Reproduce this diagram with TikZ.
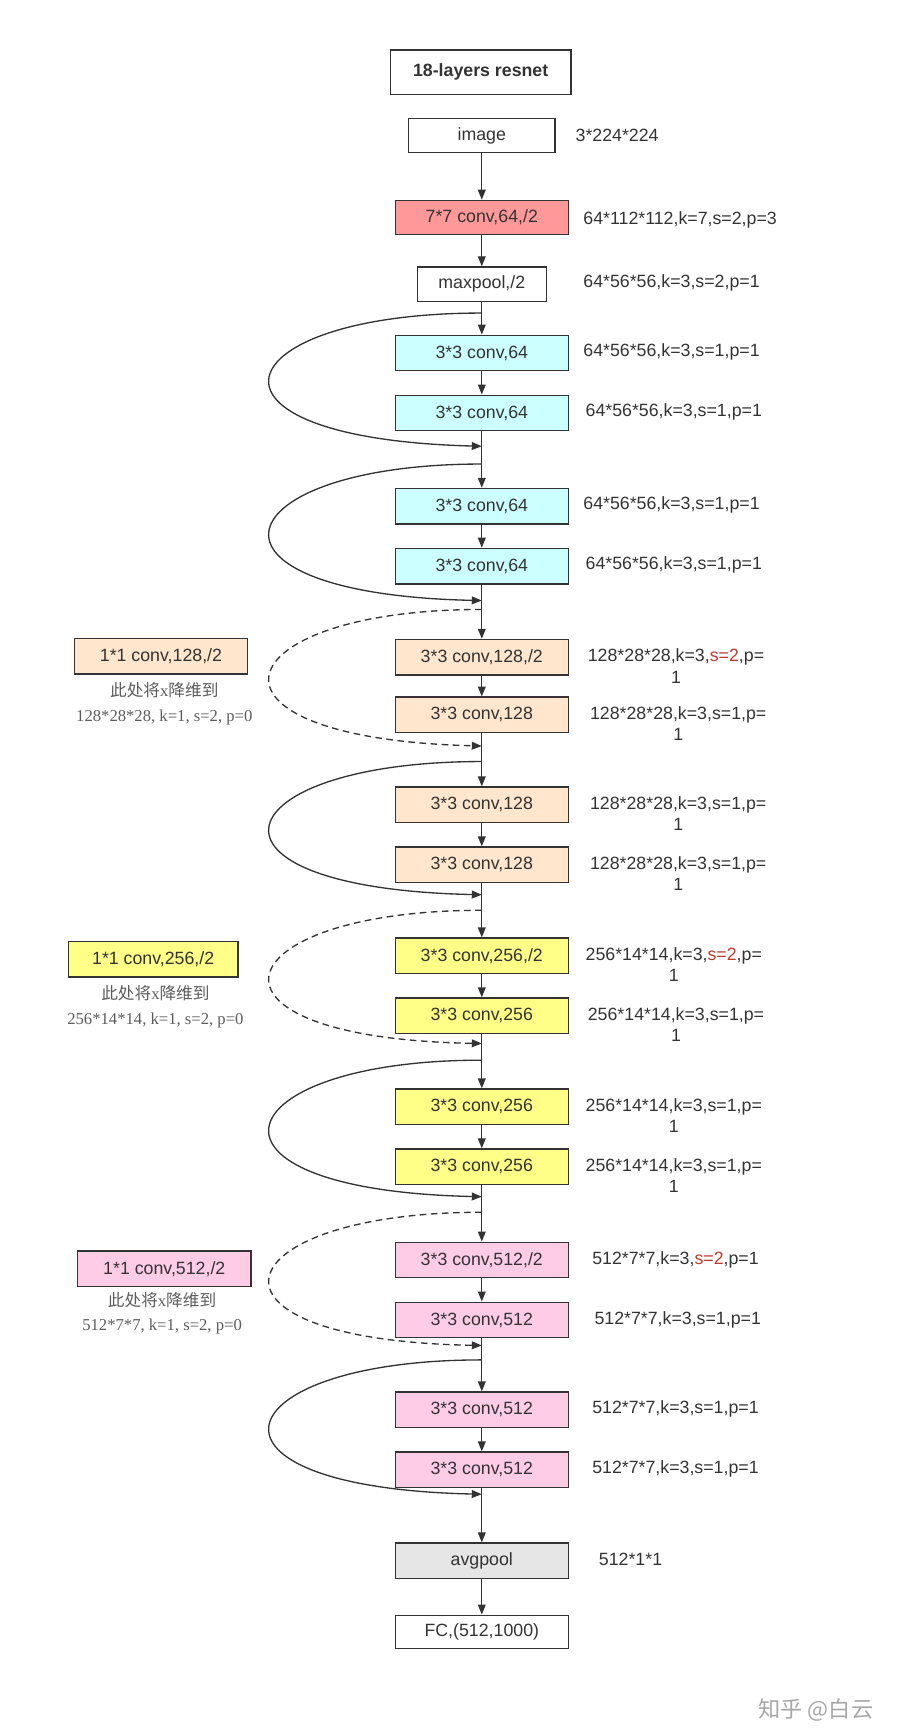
\documentclass[tikz,border=0pt]{standalone}
\usepackage{fontspec}
\setmainfont{Liberation Sans}
\newfontfamily\cjk{Noto Sans CJK SC}
\newfontfamily\serifx{Liberation Serif}
\usetikzlibrary{arrows.meta}
\definecolor{txt}{HTML}{333333}
\definecolor{cred}{HTML}{FF9999}
\definecolor{ccyan}{HTML}{CCFFFF}
\definecolor{cpeach}{HTML}{FFE6CC}
\definecolor{cyel}{HTML}{FFFF88}
\definecolor{cpink}{HTML}{FFCCE6}
\definecolor{cgray}{HTML}{E6E6E6}
\definecolor{sred}{HTML}{C0392B}
\begin{document}
\begin{tikzpicture}[x=1pt,y=-1pt,
  box/.style={draw=txt,line width=1.2pt,minimum width=156pt,minimum height=32pt,inner sep=0pt,font=\fontsize{16}{18}\selectfont,text=txt},
  lab/.style={anchor=west,font=\fontsize{16}{19}\selectfont,text=txt,align=center},
  note/.style={font=\fontsize{15}{22}\selectfont,text=txt!80,align=center},
  arr/.style={-{Triangle[length=9pt,width=7pt]},line width=1.2pt,draw=txt},
  sk/.style={arr},
  dsk/.style={arr,dash pattern=on 6pt off 4pt}]
\useasboundingbox (0,0) rectangle (815,1562);
\node[box,minimum width=163pt,minimum height=40pt,font=\bfseries\fontsize{16}{18}\selectfont] (t) at (433,65) {18-layers resnet};
\node[box,minimum width=132pt,minimum height=31pt] (img) at (434,122) {image};
\node[lab] at (515,122) {3*224*224};
\node[box,fill=cred,minimum height=31pt] (c7) at (434,196) {7*7 conv,64,/2};
\node[lab] at (522,198) {64*112*112,k=7,s=2,p=3};
\node[box,minimum width=116pt,minimum height=31pt] (mp) at (434,256) {maxpool,/2};
\node[lab] at (522,255) {64*56*56,k=3,s=2,p=1};
\node[box,fill=ccyan] (a1) at (434,318) {3*3 conv,64};
\node[lab] at (522,317) {64*56*56,k=3,s=1,p=1};
\node[box,fill=ccyan] (a2) at (434,372) {3*3 conv,64};
\node[lab] at (524,371) {64*56*56,k=3,s=1,p=1};
\node[box,fill=ccyan] (a3) at (434,456) {3*3 conv,64};
\node[lab] at (522,455) {64*56*56,k=3,s=1,p=1};
\node[box,fill=ccyan] (a4) at (434,510) {3*3 conv,64};
\node[lab] at (524,509) {64*56*56,k=3,s=1,p=1};
\node[box,fill=cpeach] (b1) at (434,592) {3*3 conv,128,/2};
\node[lab] at (526,600) {128*28*28,k=3,\textcolor{sred}{s=2},p=\\1};
\node[box,fill=cpeach] (b2) at (434,644) {3*3 conv,128};
\node[lab] at (528,652) {128*28*28,k=3,s=1,p=\\1};
\node[box,fill=cpeach] (b3) at (434,725) {3*3 conv,128};
\node[lab] at (528,733) {128*28*28,k=3,s=1,p=\\1};
\node[box,fill=cpeach] (b4) at (434,779) {3*3 conv,128};
\node[lab] at (528,787) {128*28*28,k=3,s=1,p=\\1};
\node[box,fill=cyel] (c1) at (434,861) {3*3 conv,256,/2};
\node[lab] at (524,869) {256*14*14,k=3,\textcolor{sred}{s=2},p=\\1};
\node[box,fill=cyel] (c2) at (434,915) {3*3 conv,256};
\node[lab] at (526,923) {256*14*14,k=3,s=1,p=\\1};
\node[box,fill=cyel] (c3) at (434,997) {3*3 conv,256};
\node[lab] at (524,1005) {256*14*14,k=3,s=1,p=\\1};
\node[box,fill=cyel] (c4) at (434,1051) {3*3 conv,256};
\node[lab] at (524,1059) {256*14*14,k=3,s=1,p=\\1};
\node[box,fill=cpink] (d1) at (434,1135) {3*3 conv,512,/2};
\node[lab] at (530,1135) {512*7*7,k=3,\textcolor{sred}{s=2},p=1};
\node[box,fill=cpink] (d2) at (434,1189) {3*3 conv,512};
\node[lab] at (532,1189) {512*7*7,k=3,s=1,p=1};
\node[box,fill=cpink] (d3) at (434,1270) {3*3 conv,512};
\node[lab] at (530,1269) {512*7*7,k=3,s=1,p=1};
\node[box,fill=cpink] (d4) at (434,1324) {3*3 conv,512};
\node[lab] at (530,1323) {512*7*7,k=3,s=1,p=1};
\node[box,fill=cgray] (av) at (434,1406) {avgpool};
\node[lab] at (536,1405) {512*1*1};
\node[box,minimum height=30pt] (fc) at (434,1470) {FC,(512,1000)};
% side boxes
\node[box,fill=cpeach] (s1) at (145,591) {1*1 conv,128,/2};
\node[note] (n1) at (148,634) {{\cjk 此处将}{\serifx x}{\cjk 降维到}\\{\serifx 128*28*28, k=1, s=2, p=0}};
\node[box,fill=cyel,minimum width=153pt] (s2) at (138,864) {1*1 conv,256,/2};
\node[note] (n2) at (140,907) {{\cjk 此处将}{\serifx x}{\cjk 降维到}\\{\serifx 256*14*14, k=1, s=2, p=0}};
\node[box,fill=cpink] (s3) at (148,1143) {1*1 conv,512,/2};
\node[note] (n3) at (146,1183) {{\cjk 此处将}{\serifx x}{\cjk 降维到}\\{\serifx 512*7*7, k=1, s=2, p=0}};
\node[font=\fontsize{20}{22}\selectfont,text=gray!70] (wm) at (735,1540) {\cjk 知乎 @白云};
% main arrows
\foreach \u/\v in {img/c7,c7/mp,mp/a1,a1/a2,a2/a3,a3/a4,a4/b1,b1/b2,b2/b3,b3/b4,b4/c1,c1/c2,c2/c3,c3/c4,c4/d1,d1/d2,d2/d3,d3/d4,d4/av,av/fc}
  \draw[arr] (\u) -- (\v);
% skip connections
\coordinate (p1) at (434,282); \coordinate (q1) at (434,402);
\coordinate (p2) at (434,418); \coordinate (q2) at (434,541);
\coordinate (p3) at (434,549); \coordinate (q3) at (434,672);
\coordinate (p4) at (434,686); \coordinate (q4) at (434,806);
\coordinate (p5) at (434,820); \coordinate (q5) at (434,940);
\coordinate (p6) at (434,955); \coordinate (q6) at (434,1078);
\coordinate (p7) at (434,1092); \coordinate (q7) at (434,1212);
\coordinate (p8) at (434,1225); \coordinate (q8) at (434,1346);
\draw[sk] (p1) .. controls (200,282) and (160,395) .. (q1);
\draw[sk] (p2) .. controls (200,418) and (160,535) .. (q2);
\draw[dsk] (p3) .. controls (200,549) and (160,665) .. (q3);
\draw[sk] (p4) .. controls (200,686) and (160,800) .. (q4);
\draw[dsk] (p5) .. controls (200,820) and (160,935) .. (q5);
\draw[sk] (p6) .. controls (200,955) and (160,1072) .. (q6);
\draw[dsk] (p7) .. controls (200,1092) and (160,1207) .. (q7);
\draw[sk] (p8) .. controls (200,1225) and (160,1340) .. (q8);
\end{tikzpicture}
\end{document}
